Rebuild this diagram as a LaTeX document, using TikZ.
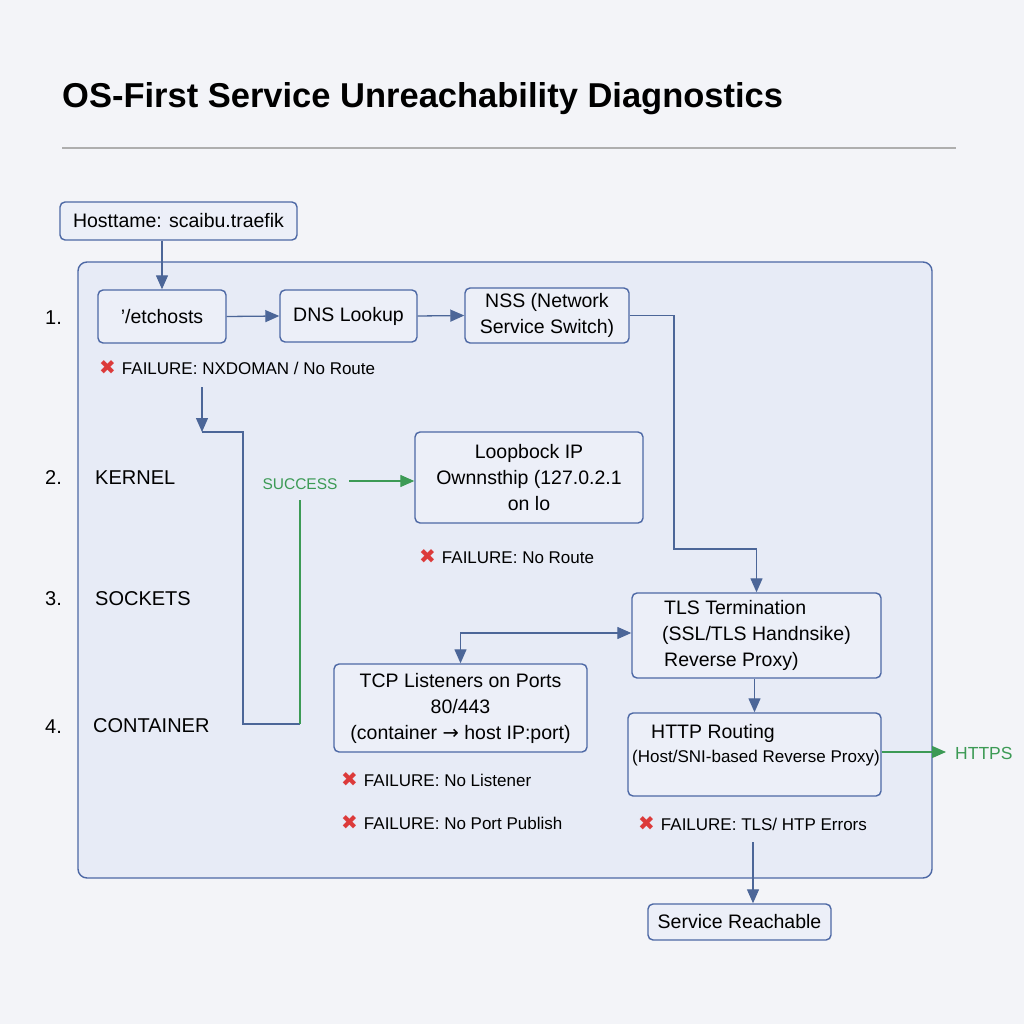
\documentclass[tikz,border=0pt]{standalone}
\usepackage{fontspec}
\setmainfont{Liberation Sans}
\newfontfamily\symf{DejaVu Sans}
\usetikzlibrary{arrows.meta,calc}
\definecolor{bg}{HTML}{F3F4F8}
\definecolor{panel}{HTML}{E7EBF6}
\definecolor{boxfill}{HTML}{ECEFF8}
\definecolor{bord}{HTML}{4D68A5}
\definecolor{arrc}{HTML}{4C6698}
\definecolor{okgreen}{HTML}{3C9A55}
\definecolor{xred}{HTML}{DC3A3A}
\definecolor{rule}{HTML}{AEAEAE}
\newcommand{\xmk}{{\symf\fontsize{20}{20}\selectfont\color{xred}✖}\hspace{6pt}}
\begin{document}
\begin{tikzpicture}[x=1pt,y=-1pt,
  box/.style={draw=bord, fill=boxfill, line width=1.4pt, rounded corners=5pt, align=center, inner sep=0pt, font=\fontsize{19.5}{26}\selectfont},
  tip/.tip={Triangle[length=14pt,width=12pt]},
  arr/.style={draw=arrc, line width=1.3pt, -tip},
  garr/.style={draw=okgreen, line width=1.3pt, -tip},
  fail/.style={anchor=west, inner sep=0pt, font=\fontsize{17}{20}\selectfont},
  lab/.style={anchor=west, inner sep=0pt, font=\fontsize{20}{24}\selectfont},
]
\fill[bg] (0,0) rectangle (1024,1024);
\useasboundingbox (0,0) rectangle (1024,1024);

% title
\node[anchor=base west, inner sep=0pt, font=\fontsize{34.5}{38}\selectfont\bfseries] (title) at (62,108) {OS-First Service Unreachability Diagnostics};
\draw[rule, line width=1.2pt] (62,148) -- (956,148);

% container
\node[draw=bord, fill=panel, line width=1.4pt, rounded corners=9pt, minimum width=854pt, minimum height=616pt, inner sep=0pt] (panel) at (505,570) {};

% left labels
\node[lab] (n1) at (45,318) {1.};
\node[lab] (n2) at (45,478) {2.};
\node[lab] (n3) at (45,599) {3.};
\node[lab] (n4) at (45,727) {4.};
\node[lab] (kern) at (95,478) {KERNEL};
\node[lab] (sock) at (95,599) {SOCKETS};
\node[lab] (cont) at (93,726) {CONTAINER};

% boxes
\node[box, minimum width=237pt, minimum height=38pt] (host) at (178.5,221) {Hosttame: scaibu.traefik};
\node[box, minimum width=128pt, minimum height=53pt] (etc) at (162,316.5) {'/etchosts};
\node[box, minimum width=137pt, minimum height=52pt] (dns) at (348.5,316) {DNS Lookup};
\node[box, minimum width=164pt, minimum height=55pt] (nss) at (547,315.5) {NSS (Network\\Service Switch)};
\node[box, minimum width=228pt, minimum height=91pt] (loop) at (529,477.5) {Loopbock IP\\Ownnsthip (127.0.2.1\\on lo};
\node[box, minimum width=249pt, minimum height=85pt, align=left] (tls) at (756.5,635.5) {\hspace*{2pt}TLS Termination\\(SSL/TLS Handnsike)\\\hspace*{2pt}Reverse Proxy)};
\node[box, minimum width=253pt, minimum height=88pt] (tcp) at (460.5,708) {TCP Listeners on Ports\\80/443\\(container {\symf→} host IP:port)};
\node[box, minimum width=253pt, minimum height=83pt] (http) at (754.5,754.5) {};
\node[anchor=base west, inner sep=0pt, font=\fontsize{19.5}{24}\selectfont] (httpa) at (651,738) {HTTP Routing};
\node[anchor=base west, inner sep=0pt, font=\fontsize{17}{20}\selectfont] (httpb) at (632,762) {(Host/SNI-based Reverse Proxy)};
\node[box, minimum width=183pt, minimum height=36pt] (svc) at (739.5,922) {Service Reachable};

% failure labels
\node[fail] (f1) at (99,368) {\xmk FAILURE: NXDOMAN / No Route};
\node[fail] (f2) at (419,557) {\xmk FAILURE: No Route};
\node[fail] (f3) at (341,780) {\xmk FAILURE: No Listener};
\node[fail] (f4) at (341,823) {\xmk FAILURE: No Port Publish};
\node[fail] (f5) at (638,824) {\xmk FAILURE: TLS/ HTP Errors};

% success
\node[inner sep=0pt, text=okgreen, font=\fontsize{15.5}{18}\selectfont] (succ) at (300,484) {SUCCESS};
\node[anchor=west, inner sep=0pt, text=okgreen, font=\fontsize{17.5}{20}\selectfont] (https) at (955,753) {HTTPS};

% connectors
\draw[arr] (etc.north |- host.south) -- (etc.north);
\draw[arr] (etc.east) -- (dns.west);
\draw[arr] (dns.east) -- (nss.west);
\coordinate (c1) at (674,549);
\draw[arr] (nss.east) -| (c1) -| (tls.north);

\coordinate (d0) at (202,387);
\coordinate (d1) at (202,432);
\coordinate (d2) at (243,432);
\coordinate (d3) at (243,724);
\coordinate (d4) at (300,724);
\coordinate (d5) at (300,500);
\draw[arr] (d0) -- (d1);
\draw[draw=arrc, line width=1.3pt] (d1) -- (d2) -- (d3) -- (d4);
\draw[draw=okgreen, line width=1.3pt] (d4) -- (d5);
\coordinate (sc) at (349,481);
\draw[garr] (sc) -- (sc -| loop.west);

\draw[draw=arrc, line width=1.3pt, tip-tip] (tcp.north) |- (tls.west |- 0,633);
\draw[arr] (http.north |- tls.south) -- (http.north);
\coordinate (hx) at (946,752);
\draw[garr] (http.east |- hx) -- (hx);
\coordinate (g0) at (753,842);
\draw[arr] (g0) -- (g0 |- svc.north);
\end{tikzpicture}
\end{document}
